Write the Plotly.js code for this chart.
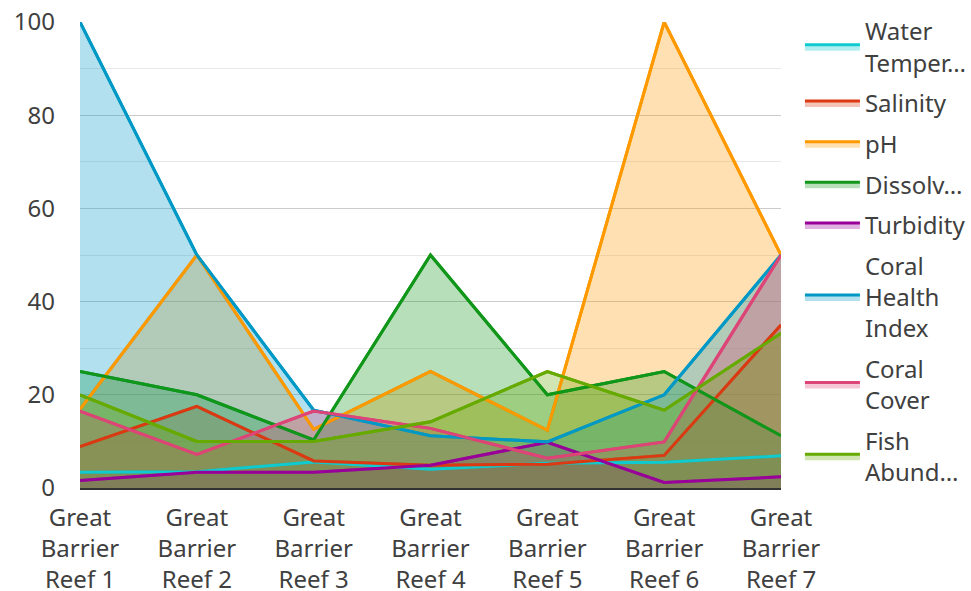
<!DOCTYPE html>
<html>
<head>
<meta charset="utf-8">
<script src="https://cdn.plot.ly/plotly-3.0.1.min.js"></script>
<style>html,body{margin:0;padding:0;background:#fff;}#chart{width:971px;height:591px;}</style>
</head>
<body>
<div id="chart"></div>
<script>
const categories = ["Great<br>Barrier<br>Reef 1","Great<br>Barrier<br>Reef 2","Great<br>Barrier<br>Reef 3","Great<br>Barrier<br>Reef 4","Great<br>Barrier<br>Reef 5","Great<br>Barrier<br>Reef 6","Great<br>Barrier<br>Reef 7"];
const seriesNames = ["Water<br>Temper…","Salinity","pH","Dissolv…","Turbidity","Coral<br>Health<br>Index","Coral<br>Cover","Fish<br>Abund…"];
const waterTemperature = [3.4, 3.5, 5.6, 4.0, 5.3, 5.5, 6.9];
const salinity = [8.9, 17.5, 5.8, 4.9, 5.1, 7.0, 35];
const pH = [16.9, 50, 12.6, 25, 12.4, 100, 50];
const dissolvedOxygen = [25, 20, 10.3, 50, 20, 25, 11.2];
const turbidity = [1.6, 3.4, 3.4, 4.9, 9.8, 1.2, 2.4];
const coralHealthIndex = [100, 50, 16.7, 11.2, 9.9, 20, 50];
const coralCover = [16.5, 7.2, 16.5, 12.8, 6.4, 9.9, 50];
const fishAbundance = [20, 10, 10, 14.2, 25, 16.7, 33.2];
const seriesValues = [waterTemperature, salinity, pH, dissolvedOxygen, turbidity, coralHealthIndex, coralCover, fishAbundance];
const lineColors = ["#0FCBCF","#DC3912","#FF9900","#109618","#990099","#0099C6","#DD4477","#66AA00"];
const fillColors = ["rgba(15,203,207,0.32)","rgba(220,57,18,0.3)","rgba(255,153,0,0.3)","rgba(16,150,24,0.3)","rgba(153,0,153,0.3)","rgba(0,153,198,0.3)","rgba(221,68,119,0.3)","rgba(102,170,0,0.3)"];

const xIdx = categories.map((c, k) => k);
// Fill traces (with legend), drawn first
const fillTraces = seriesValues.map((vals, i) => ({
  type: 'scatter',
  mode: 'lines',
  x: xIdx,
  y: vals,
  name: seriesNames[i],
  legendgroup: 'g' + i,
  fill: 'tozeroy',
  fillcolor: fillColors[i],
  line: {color: lineColors[i], width: 3},
  hoverinfo: 'skip'
}));
// Line traces on top of all fills
const lineTraces = seriesValues.map((vals, i) => ({
  type: 'scatter',
  mode: 'lines',
  x: xIdx,
  y: vals,
  name: seriesNames[i],
  legendgroup: 'g' + i,
  showlegend: false,
  line: {color: lineColors[i], width: 3},
  hoverinfo: 'skip'
}));

const layout = {
  width: 971,
  height: 591,
  margin: {l: 80, r: 190, t: 22, b: 103, autoexpand: false},
  paper_bgcolor: '#fff',
  plot_bgcolor: '#fff',
  font: {family: '"Noto Sans", "Open Sans", sans-serif', size: 24, color: '#404040'},
  showlegend: true,
  legend: {
    x: 1.027, xanchor: 'left', y: 1.028, yanchor: 'top',
    font: {size: 24, color: '#404040'},
    tracegroupgap: 6.5,
    itemwidth: 55,
    traceorder: 'grouped',
    maxheight: 590
  },
  xaxis: {
    range: [0, 6],
    tickmode: 'array',
    tickvals: xIdx,
    ticktext: categories,
    showgrid: false,
    zeroline: false,
    showline: true,
    linecolor: '#333',
    linewidth: 2,
    ticks: '',
    ticklabelstandoff: 7
  },
  yaxis: {
    range: [0, 100],
    dtick: 20,
    showgrid: true,
    gridcolor: '#cccccc',
    gridwidth: 1,
    minor: {dtick: 10, showgrid: true, gridcolor: '#e8e8e8', gridwidth: 1},
    zeroline: false,
    showline: false,
    ticks: '',
    ticklabelstandoff: 24
  }
};

Plotly.newPlot('chart', fillTraces.concat(lineTraces), layout, {staticPlot: true, displayModeBar: false});
</script>
</body>
</html>
